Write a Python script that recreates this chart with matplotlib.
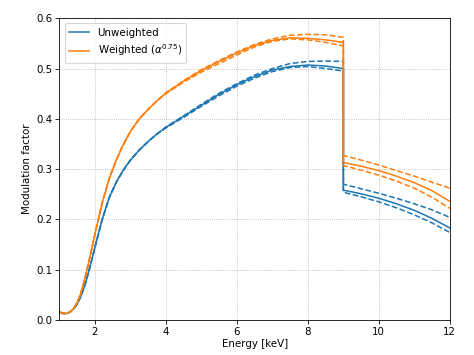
import matplotlib
matplotlib.use("Agg")
import matplotlib.pyplot as plt

energy = [1.0, 1.1, 1.2, 1.3, 1.4, 1.5, 1.6, 1.7, 1.8, 1.9, 2.0, 2.2, 2.4, 2.6, 2.8,
          3.0, 3.25, 3.5, 3.75, 4.0, 4.5, 5.0, 5.5, 6.0, 6.5, 7.0, 7.5, 8.0, 8.5, 9.0,
          9.0, 9.5, 10.0, 10.5, 11.0, 11.5, 12.0]

unw_mid = [0.016, 0.013, 0.013, 0.016, 0.022, 0.032, 0.047, 0.066, 0.090, 0.117, 0.145,
           0.199, 0.243, 0.274, 0.298, 0.318, 0.338, 0.355, 0.370, 0.383, 0.405, 0.427,
           0.449, 0.468, 0.484, 0.497, 0.504, 0.507, 0.505, 0.500,
           0.258, 0.251, 0.242, 0.231, 0.218, 0.202, 0.183]
unw_hi = [0.016, 0.013, 0.013, 0.016, 0.022, 0.032, 0.047, 0.066, 0.090, 0.117, 0.145,
          0.199, 0.243, 0.274, 0.298, 0.318, 0.338, 0.355, 0.370, 0.384, 0.406, 0.429,
          0.451, 0.470, 0.487, 0.500, 0.510, 0.514, 0.515, 0.514,
          0.270, 0.261, 0.252, 0.242, 0.231, 0.219, 0.204]
unw_lo = [0.016, 0.013, 0.013, 0.016, 0.022, 0.032, 0.047, 0.066, 0.090, 0.117, 0.145,
          0.199, 0.243, 0.274, 0.298, 0.318, 0.338, 0.355, 0.370, 0.382, 0.403, 0.425,
          0.446, 0.465, 0.481, 0.494, 0.502, 0.504, 0.500, 0.495,
          0.254, 0.245, 0.235, 0.223, 0.209, 0.193, 0.174]

wgt_mid = [0.016, 0.013, 0.013, 0.016, 0.023, 0.035, 0.053, 0.078, 0.108, 0.139, 0.171,
           0.232, 0.281, 0.318, 0.349, 0.375, 0.400, 0.419, 0.436, 0.451, 0.475, 0.496,
           0.514, 0.531, 0.546, 0.556, 0.561, 0.560, 0.557, 0.552,
           0.313, 0.306, 0.297, 0.286, 0.273, 0.257, 0.236]
wgt_hi = [0.016, 0.013, 0.013, 0.016, 0.023, 0.035, 0.053, 0.078, 0.108, 0.139, 0.171,
          0.232, 0.281, 0.318, 0.349, 0.375, 0.400, 0.419, 0.436, 0.452, 0.476, 0.498,
          0.516, 0.533, 0.548, 0.559, 0.566, 0.568, 0.567, 0.562,
          0.327, 0.318, 0.308, 0.297, 0.286, 0.274, 0.262]
wgt_lo = [0.016, 0.013, 0.013, 0.016, 0.023, 0.035, 0.053, 0.078, 0.108, 0.139, 0.171,
          0.232, 0.281, 0.318, 0.349, 0.375, 0.400, 0.419, 0.436, 0.450, 0.473, 0.493,
          0.510, 0.527, 0.543, 0.554, 0.559, 0.557, 0.552, 0.545,
          0.307, 0.298, 0.288, 0.276, 0.262, 0.244, 0.222]

labels = ["Unweighted", r"Weighted ($\alpha^{0.75}$)"]
blue = "#1f77b4"
orange = "#ff7f0e"

dpi = 474 / 6.4
fig = plt.figure(figsize=(6.4, 355 / dpi), dpi=dpi)
ax = fig.add_axes([0.1255, 0.0986, 0.8235, 0.850])

ax.plot(energy, unw_mid, color=blue, lw=1.5, label=labels[0])
ax.plot(energy, unw_hi, color=blue, lw=1.5, ls="--")
ax.plot(energy, unw_lo, color=blue, lw=1.5, ls="--")
ax.plot(energy, wgt_mid, color=orange, lw=1.5, label=labels[1])
ax.plot(energy, wgt_hi, color=orange, lw=1.5, ls="--")
ax.plot(energy, wgt_lo, color=orange, lw=1.5, ls="--")

ax.set_xlim(1, 12)
ax.set_ylim(0, 0.6)
ax.set_xticks([2, 4, 6, 8, 10, 12])
ax.set_yticks([0.0, 0.1, 0.2, 0.3, 0.4, 0.5, 0.6])
ax.tick_params(labelsize=10)
ax.set_xlabel("Energy [keV]", fontsize=10, labelpad=2)
ax.set_ylabel("Modulation factor", fontsize=10)
ax.grid(True, ls=":", color="#b0b0b0", lw=0.8)
ax.legend(loc="upper left", fontsize=10)

fig.savefig("out.png", dpi=dpi)
